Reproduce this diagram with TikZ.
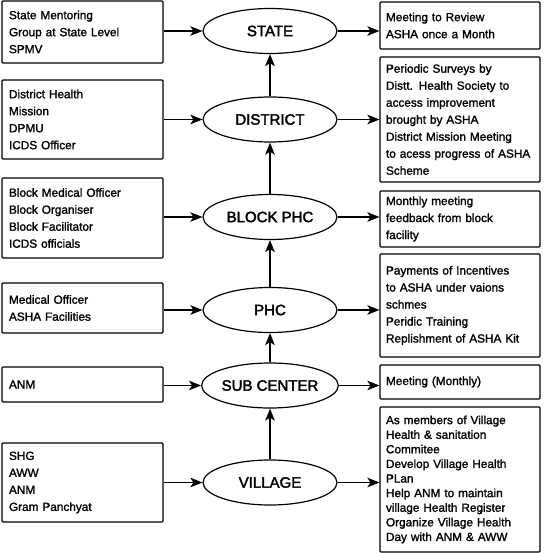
\documentclass[tikz,border=0pt]{standalone}
\usepackage{fontspec}
\setmainfont{Liberation Sans}
\newfontfamily\boxfont[FakeBold=1.5]{Liberation Sans}
\newfontfamily\lvlfont[FakeBold=2.5]{Liberation Sans}
\usetikzlibrary{arrows.meta,shapes.geometric}
\tikzset{
  lbox/.style={draw=black, line width=1.2pt, rounded corners=1pt, inner xsep=7pt, inner ysep=0pt,
    text width=147pt, align=left, font=\boxfont\fontsize{11.8}{17}\selectfont, anchor=center},
  rbox/.style={draw=black, line width=1.2pt, rounded corners=1pt, inner xsep=6pt, inner ysep=0pt,
    text width=148pt, align=left, font=\boxfont\fontsize{11.8}{17}\selectfont, anchor=center},
  lvl/.style={draw=black, line width=1.2pt, ellipse, minimum width=134pt, minimum height=45pt,
    inner sep=0pt, font=\lvlfont\fontsize{15}{18}\selectfont},
  arr/.style={line width=1.5pt, -{Stealth[length=12pt,width=9.5pt,inset=3pt]}}
}
\begin{document}
\begin{tikzpicture}[x=1pt,y=-1pt]
\useasboundingbox (0,0) rectangle (543,553);
% levels
\node[lvl] (S) at (270,31) {STATE};
\node[lvl] (D) at (270,119.5) {DISTRICT};
\node[lvl] (B) at (270,217) {BLOCK PHC};
\node[lvl] (P) at (270,310) {PHC};
\node[lvl] (C) at (270,385.5) {SUB CENTER};
\node[lvl] (V) at (270,482.5) {VILLAGE};
% left boxes
\node[lbox, minimum height=62pt] (L1) at (82.5,32) {State Mentoring\\Group at State Level\\SPMV};
\node[lbox, minimum height=79pt] (L2) at (82.5,119.5) {District Health\\Mission\\DPMU\\ICDS Officer};
\node[lbox, minimum height=80pt] (L3) at (82.5,218) {Block Medical Officer\\Block Organiser\\Block Facilitator\\ICDS officials};
\node[lbox, minimum height=50pt] (L4) at (82.5,308) {Medical Officer\\ASHA Facilities};
\node[lbox, minimum height=35pt] (L5) at (82.5,384.5) {ANM};
\node[lbox, minimum height=79pt] (L6) at (82.5,482.5) {SHG\\AWW\\ANM\\Gram Panchyat};
% right boxes
\node[rbox, minimum height=47pt] (R1) at (460,25.5) {Meeting to Review\\ASHA once a Month};
\node[rbox, minimum height=125pt] (R2) at (460,119.5) {Periodic Surveys by\\Distt. Health Society to\\access improvement\\brought by ASHA\\District Mission Meeting\\to acess progress of ASHA\\Scheme};
\node[rbox, minimum height=56pt] (R3) at (460,219) {Monthly meeting\\feedback from block\\facility};
\node[rbox, minimum height=103pt] (R4) at (460,305.5) {Payments of Incentives\\to ASHA under vaions\\schmes\\Peridic Training\\Replishment of ASHA Kit};
\node[rbox, minimum height=34pt] (R5) at (460,382) {Meeting (Monthly)};
\node[rbox, minimum height=145pt, font=\boxfont\fontsize{11.8}{14.6}\selectfont] (R6) at (460,479.5) {As members of Village\\Health \& sanitation\\Commitee\\Develop Village Health\\PLan\\Help ANM to maintain\\village Health Register\\Organize Village Health\\Day with ANM \& AWW};
% left arrows
\foreach \l/\e in {L1/S,L2/D,L3/B,L4/P,L5/C,L6/V}{
  \draw[arr] (\e.west -| \l.east) -- (\e.west);
}
% right arrows
\foreach \e/\r in {S/R1,D/R2,B/R3,P/R4,C/R5,V/R6}{
  \draw[arr] (\e.east) -- (\e.east -| \r.west);
}
% vertical arrows
\foreach \a/\b in {V/C,C/P,P/B,B/D,D/S}{
  \draw[arr] (\a.north) -- (\b.south);
}
\end{tikzpicture}
\end{document}
